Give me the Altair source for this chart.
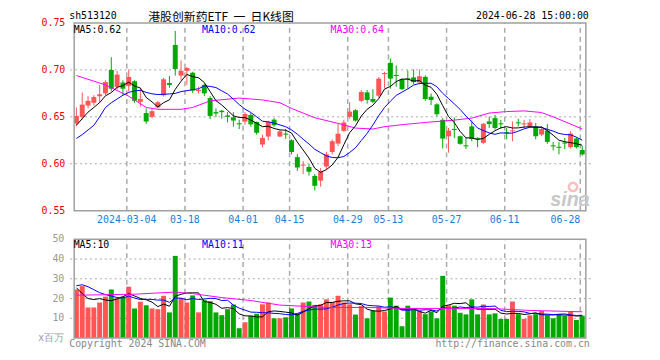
import altair as alt
import pandas as pd

# ---------------- data ----------------
opens = [0.643, 0.650, 0.662, 0.665, 0.672, 0.675, 0.700, 0.682, 0.6865, 0.683,
         0.688, 0.666, 0.654, 0.650, 0.660, 0.673, 0.686, 0.7265, 0.694, 0.699,
         0.697, 0.6775, 0.684, 0.670, 0.655, 0.6565, 0.6515, 0.6495, 0.643, 0.645,
         0.652, 0.6445, 0.6205, 0.629, 0.647, 0.629, 0.632, 0.625, 0.607, 0.598,
         0.5965, 0.587, 0.582, 0.597, 0.6125, 0.6215, 0.635, 0.650, 0.657, 0.667,
         0.676, 0.669, 0.6725, 0.6955, 0.7075, 0.694, 0.690, 0.6905, 0.692, 0.6865,
         0.6925, 0.6714, 0.6633, 0.6468, 0.6293, 0.6365, 0.6293, 0.619, 0.6398, 0.627,
         0.6223, 0.6451, 0.6486, 0.643, 0.633, 0.6345, 0.6435, 0.642, 0.6398, 0.6398,
         0.6311, 0.6353, 0.619, 0.6172, 0.622, 0.6177, 0.6268, 0.6146]
highs = [0.660, 0.676, 0.672, 0.673, 0.684, 0.689, 0.7135, 0.699, 0.689, 0.7005,
         0.689, 0.680, 0.659, 0.659, 0.667, 0.6915, 0.6935, 0.7415, 0.710, 0.703,
         0.698, 0.682, 0.6855, 0.672, 0.659, 0.6575, 0.655, 0.655, 0.647, 0.655,
         0.654, 0.645, 0.631, 0.6458, 0.6485, 0.636, 0.637, 0.626, 0.6103, 0.603,
         0.5995, 0.589, 0.5953, 0.6128, 0.6258, 0.6423, 0.6468, 0.6654, 0.658, 0.6785,
         0.6785, 0.6795, 0.6925, 0.698, 0.712, 0.7047, 0.6907, 0.6995, 0.7005, 0.7005,
         0.6942, 0.6749, 0.6644, 0.6486, 0.6381, 0.6493, 0.630, 0.628, 0.646, 0.6282,
         0.6433, 0.6503, 0.6521, 0.6468, 0.6381, 0.6451, 0.6479, 0.6468, 0.6475, 0.6433,
         0.6398, 0.6423, 0.6233, 0.6233, 0.6275, 0.6346, 0.6282, 0.6188]
lows = [0.640, 0.647, 0.659, 0.662, 0.665, 0.673, 0.677, 0.679, 0.673, 0.677,
        0.665, 0.661, 0.6425, 0.6485, 0.659, 0.6715, 0.681, 0.694, 0.689, 0.684,
        0.6755, 0.675, 0.672, 0.6475, 0.650, 0.648, 0.644, 0.6395, 0.637, 0.6415,
        0.6395, 0.631, 0.6175, 0.625, 0.6395, 0.6285, 0.6265, 0.610, 0.5925, 0.589,
        0.5875, 0.5715, 0.5756, 0.594, 0.610, 0.619, 0.634, 0.648, 0.645, 0.6655,
        0.664, 0.6645, 0.6705, 0.6802, 0.680, 0.682, 0.6785, 0.680, 0.6847, 0.6847,
        0.667, 0.6626, 0.6503, 0.6163, 0.6118, 0.6275, 0.6202, 0.6156, 0.624, 0.6177,
        0.6212, 0.6381, 0.6363, 0.6374, 0.6261, 0.624, 0.6398, 0.6381, 0.639, 0.6261,
        0.6293, 0.6212, 0.6142, 0.610, 0.6156, 0.6163, 0.6163, 0.6086]
closes = [0.651, 0.663, 0.667, 0.671, 0.674, 0.687, 0.680, 0.695, 0.680, 0.6925,
          0.667, 0.669, 0.645, 0.656, 0.6655, 0.690, 0.684, 0.701, 0.699, 0.702,
          0.678, 0.6785, 0.675, 0.651, 0.6535, 0.655, 0.650, 0.646, 0.642, 0.653,
          0.642, 0.633, 0.6275, 0.6445, 0.641, 0.6345, 0.631, 0.6125, 0.596, 0.599,
          0.5915, 0.5765, 0.5915, 0.610, 0.624, 0.632, 0.644, 0.6555, 0.646, 0.6765,
          0.668, 0.666, 0.6907, 0.6967, 0.6907, 0.6935, 0.6795, 0.690, 0.687, 0.6932,
          0.669, 0.668, 0.6528, 0.6268, 0.6353, 0.636, 0.6212, 0.6185, 0.6265, 0.6265,
          0.6426, 0.6423, 0.6381, 0.642, 0.6325, 0.6355, 0.643, 0.6425, 0.644, 0.6293,
          0.637, 0.6233, 0.6185, 0.617, 0.6215, 0.6321, 0.6177, 0.610]
volumes = [24.6, 26.3, 15.5, 15.5, 18.0, 21.0, 24.6, 20.0, 21.0, 26.0,
           15.0, 18.4, 16.6, 15.0, 14.6, 21.4, 13.0, 41.6, 20.3, 18.0,
           21.6, 13.0, 19.2, 18.6, 13.0, 11.6, 14.6, 17.0, 5.0, 8.0,
           11.3, 12.3, 17.1, 18.0, 10.0, 10.0, 10.5, 15.0, 12.5, 18.0,
           18.5, 16.8, 17.1, 19.6, 18.2, 21.4, 18.0, 17.1, 11.9, 16.2,
           10.0, 13.9, 16.1, 13.4, 20.5, 16.4, 6.0, 16.4, 14.8, 13.7,
           12.1, 13.5, 10.0, 31.5, 16.6, 16.4, 12.8, 12.0, 19.6, 12.0,
           17.0, 12.0, 12.5, 9.7, 9.7, 18.5, 12.1, 9.7, 11.5, 12.1,
           13.7, 11.5, 10.0, 11.8, 11.3, 13.3, 9.2, 11.3]

# first values of the moving averages (they depend on days before the window)
ma5_head = [0.641, 0.648, 0.655, 0.660]
ma10_head = [0.627, 0.631, 0.636, 0.641, 0.650, 0.660, 0.665, 0.669, 0.673]
vol_ma5_head = [25.5, 22.5, 20.0, 19.5]
vol_ma10_head = [26.5, 27.0, 26.0, 24.5, 23.0, 22.0, 21.3, 20.5, 20.3]

ma30_k = [0, 5, 9, 12, 14, 18, 20, 23, 28, 32, 35, 37, 41, 45, 48, 51, 53, 56,
          60, 65, 68, 71, 74, 77, 80, 82, 85, 87]
ma30_v = [0.694, 0.684, 0.672, 0.660, 0.658, 0.658, 0.660, 0.667, 0.670, 0.668,
          0.665, 0.659, 0.649, 0.643, 0.638, 0.637, 0.6395, 0.6416, 0.644, 0.6465,
          0.6486, 0.654, 0.6556, 0.6563, 0.6546, 0.650, 0.6423, 0.637]
vma30_k = [0, 10, 17, 20, 25, 30, 35, 43, 50, 56, 65, 71, 78, 87]
vma30_v = [21.7, 22.2, 23.3, 22.5, 20.5, 19.0, 16.7, 15.5, 15.5, 15.0, 15.0, 15.0, 14.0, 13.3]

tick_k = [9, 19, 29, 37, 47, 54, 64, 74, 87]
tick_labels = ["2024-03-04", "03-18", "04-01", "04-15", "04-29", "05-13",
               "05-27", "06-11", "06-28"]
price_ticks = [0.75, 0.70, 0.65, 0.60, 0.55]
price_grid = [0.70, 0.65, 0.60]
vol_ticks = [50, 40, 30, 20, 10, 0]
vol_tick_text = ["50", "40", "30", "20", "10", "x百万"]
vol_grid = [40, 30, 20, 10]

price_ma_labels = ["MA5:0.62", "MA10:0.62", "MA30:0.64"]
vol_ma_labels = ["MA5:10", "MA10:11", "MA30:13"]

# ---------------- styling ----------------
UP = "#ff5555"
DOWN = "#00a800"
MONO = "DejaVu Sans Mono"
GRID = "#aaaaaa"
BORDER = "#a0a0a0"
BLUE_TXT = "#1c7cd5"

N = len(closes)
W, H = 528, 319
xs = alt.Scale(domain=[-0.383, N - 0.383], nice=False, zero=False)
ps = alt.Scale(domain=[0.55, 0.75], range=[190, 0], nice=False, zero=False)
vs = alt.Scale(domain=[0, 50], range=[319, 219], nice=False, zero=False)

df = pd.DataFrame({
    "k": list(range(N)), "open": opens, "high": highs, "low": lows,
    "close": closes, "vol": volumes,
    "ma5h": ma5_head + [None] * (N - len(ma5_head)),
    "ma10h": ma10_head + [None] * (N - len(ma10_head)),
    "vma5h": vol_ma5_head + [None] * (N - len(vol_ma5_head)),
    "vma10h": vol_ma10_head + [None] * (N - len(vol_ma10_head)),
})

X = alt.X("k:Q", scale=xs, axis=None)
col = alt.condition("datum.close >= datum.open", alt.value(UP), alt.value(DOWN))
base = alt.Chart(df)

# grid lines
pgrid = alt.Chart(pd.DataFrame({"p": price_grid})).mark_rule(
    color=GRID, strokeDash=[2, 3], strokeWidth=1).encode(
    y=alt.Y("p:Q", scale=ps, axis=None))
vgrid = alt.Chart(pd.DataFrame({"v": vol_grid})).mark_rule(
    color=GRID, strokeDash=[2, 3], strokeWidth=1).encode(
    y=alt.Y("v:Q", scale=vs, axis=None))
tdf = pd.DataFrame({"k": tick_k, "lo_p": 0.55, "hi_p": 0.75, "lo_v": 0, "hi_v": 50})
tx = alt.X("kx:Q", scale=xs, axis=None)
pvert = alt.Chart(tdf).transform_calculate(kx="datum.k - 0.333").mark_rule(
    color=GRID, strokeDash=[5, 4], strokeWidth=1.5).encode(
    x=tx, y=alt.Y("lo_p:Q", scale=ps, axis=None), y2="hi_p:Q")
vvert = alt.Chart(tdf).transform_calculate(kx="datum.k - 0.333").mark_rule(
    color=GRID, strokeDash=[5, 4], strokeWidth=1.5).encode(
    x=tx, y=alt.Y("lo_v:Q", scale=vs, axis=None), y2="hi_v:Q")

# volume bars
vbars = base.mark_bar(size=5).encode(
    x=X, y=alt.Y("vol:Q", scale=vs, axis=None, stack=None), color=col)

# candles
wicks = base.mark_rule(strokeWidth=1).encode(
    x=X, y=alt.Y("low:Q", scale=ps, axis=None), y2="high:Q", color=col)
bodies = base.transform_calculate(
    lo="min(datum.open, datum.close)",
    hi="max(max(datum.open, datum.close), min(datum.open, datum.close) + 0.0011)"
).mark_bar(size=5).encode(
    x=X, y=alt.Y("lo:Q", scale=ps, axis=None), y2="hi:Q", color=col)


def ma_line(field, n, head, scale, color):
    return base.transform_window(
        m=f"mean({field})", frame=[-(n - 1), 0], sort=[alt.SortField("k")]
    ).transform_calculate(
        v=f"datum.k < {n - 1} ? datum.{head} : datum.m"
    ).mark_line(color=color, strokeWidth=1).encode(
        x=X, y=alt.Y("v:Q", scale=scale, axis=None))


ma5 = ma_line("close", 5, "ma5h", ps, "black")
ma10 = ma_line("close", 10, "ma10h", ps, "#0000ff")
ma30 = alt.Chart(pd.DataFrame({"k": ma30_k, "v": ma30_v})).mark_line(
    color="#ff00ff", strokeWidth=1).encode(x=X, y=alt.Y("v:Q", scale=ps, axis=None))
vma5 = ma_line("vol", 5, "vma5h", vs, "black")
vma10 = ma_line("vol", 10, "vma10h", vs, "#0000ff")
vma30 = alt.Chart(pd.DataFrame({"k": vma30_k, "v": vma30_v})).mark_line(
    color="#ff00ff", strokeWidth=1).encode(x=X, y=alt.Y("v:Q", scale=vs, axis=None))

# panel borders
bdf = pd.DataFrame({"x0": [-0.383], "x1": [N - 0.383], "p0": [0.55], "p1": [0.75],
                    "v0": [0], "v1": [50]})
pborder = alt.Chart(bdf).mark_rect(fill="white", fillOpacity=0, stroke=BORDER,
                                   strokeWidth=1.5).encode(
    x=alt.X("x0:Q", scale=xs, axis=None), x2="x1:Q",
    y=alt.Y("p0:Q", scale=ps, axis=None), y2="p1:Q")
vborder = alt.Chart(bdf).mark_rect(fill="white", fillOpacity=0, stroke=BORDER,
                                   strokeWidth=1.5).encode(
    x=alt.X("x0:Q", scale=xs, axis=None), x2="x1:Q",
    y=alt.Y("v0:Q", scale=vs, axis=None), y2="v1:Q")

# axis labels
plabels = alt.Chart(pd.DataFrame({"p": price_ticks})).mark_text(
    align="right", baseline="middle", font=MONO, fontSize=10, color="#ee0000").encode(
    x=alt.value(-4), y=alt.Y("p:Q", scale=ps, axis=None),
    text=alt.Text("p:Q", format=".2f"))
vlabels = alt.Chart(pd.DataFrame({"v": vol_ticks, "t": vol_tick_text})).mark_text(
    align="right", baseline="middle", font=MONO, fontSize=10, color="#999999").encode(
    x=alt.value(-5), y=alt.Y("v:Q", scale=vs, axis=None), text="t:N")
xdf = pd.DataFrame({"k": tick_k, "t": tick_labels})
xlabels = alt.Chart(xdf.iloc[:-1]).transform_calculate(kx="datum.k - 0.333").mark_text(
    align="center", baseline="middle", font=MONO, fontSize=10, color=BLUE_TXT).encode(
    x=tx, y=alt.value(200), text="t:N")
xlast = alt.Chart(xdf.iloc[-1:]).transform_calculate(kx="datum.k - 0.333").mark_text(
    align="right", baseline="middle", font=MONO, fontSize=10, color=BLUE_TXT).encode(
    x=tx, y=alt.value(200), text="t:N")


def label(text, x, y, color, align="left", size=10, font=MONO, **kw):
    return alt.Chart(pd.DataFrame({"t": [text]})).mark_text(
        align=align, baseline="middle", color=color, fontSize=size, font=font, **kw
    ).encode(x=alt.value(x), y=alt.value(y), text="t:N")


ma_colors = ["black", "#0000ff", "#ff00ff"]
ma_x = [4.5, 134.5, 264.5]
texts = []
for t, c, x in zip(price_ma_labels, ma_colors, ma_x):
    texts.append(label(t, x, 7, c))
for t, c, x in zip(vol_ma_labels, ma_colors, ma_x):
    texts.append(label(t, x, 225, c))
texts += [
    label("sh513120", 0, -7, "black"),
    label("港股创新药ETF\u00a0\u00a0一\u00a0\u00a0日K线图", 80, -6.3, "black", size=12,
          font="Noto Sans CJK SC"),
    label("2024-06-28 15:00:00", 526, -7, "black", align="right"),
    label("Copyright 2024 SINA.COM", 0, 325, "#888888"),
    label("http://finance.sina.com.cn", 527, 325, "#888888", align="right"),
    label("sina", 527, 179, "#c8c8c8", align="right", size=20, font="Liberation Sans",
          fontStyle="italic", fontWeight="bold"),
]
eye = alt.Chart(pd.DataFrame({"t": ["o"]})).mark_point(
    shape="circle", size=70, filled=False, strokeWidth=2.5, color="#f4a4a4").encode(
    x=alt.value(510), y=alt.value(166))

chart = alt.layer(
    pgrid, vgrid, pvert, vvert, vbars, vma5, vma10, vma30,
    wicks, bodies, ma30, ma10, ma5, pborder, vborder,
    plabels, vlabels, xlabels, xlast, eye, *texts
).resolve_scale(y="independent").properties(
    width=W, height=H,
    padding={"left": 62, "top": 13, "right": 62, "bottom": 18},
    autosize=alt.AutoSizeParams(type="none"),
    background="white",
).configure_view(strokeWidth=0)

chart.save("out.html", embed_options={"renderer": "svg", "actions": False})
